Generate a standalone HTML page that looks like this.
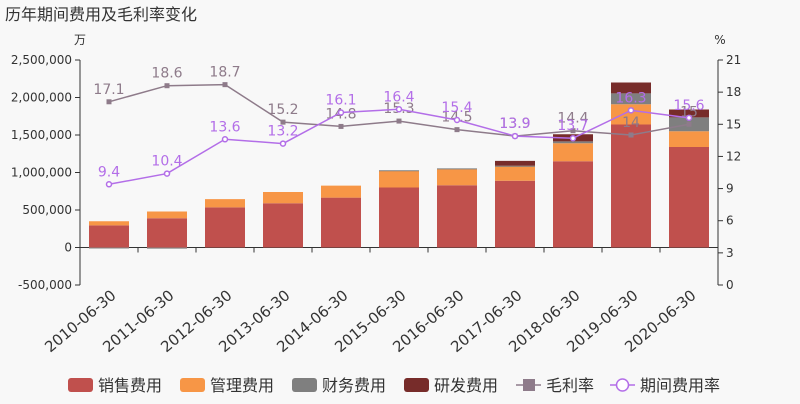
<!DOCTYPE html>
<html><head><meta charset="utf-8"><style>
body{margin:0;background:#f8f8f8;font-family:"DejaVu Sans","Noto Sans CJK SC",sans-serif}
svg text{font-family:"DejaVu Sans","Noto Sans CJK SC",sans-serif}
</style></head><body>
<svg id="c" width="800" height="400">
<rect width="800" height="400" fill="#f8f8f8"/>
<text x="5" y="20" font-size="16" fill="#333">历年期间费用及毛利率变化</text>
<text x="80" y="44" font-size="12" fill="#333" text-anchor="middle">万</text>
<text x="720" y="44" font-size="12" fill="#333" text-anchor="middle">%</text>
<g id="g"></g>
</svg>
<script>
const categories=["2010-06-30","2011-06-30","2012-06-30","2013-06-30","2014-06-30","2015-06-30","2016-06-30","2017-06-30","2018-06-30","2019-06-30","2020-06-30"];
const sales=[295000,390000,535000,590000,665000,800000,830000,890000,1150000,1640000,1340000];
const mgmt=[55000,90000,110000,150000,160000,225000,215000,190000,240000,270000,210000];
const fin=[-5000,-15000,0,0,0,5000,10000,10000,25000,145000,185000];
const rd=[0,0,0,0,0,0,0,65000,95000,145000,105000];
const gross=[17.1,18.6,18.7,15.2,14.8,15.3,14.5,13.9,14.4,14,15];
const period=[9.4,10.4,13.6,13.2,16.1,16.4,15.4,13.9,13.7,16.3,15.6];
const leftTicks=[-500000,0,500000,1000000,1500000,2000000,2500000];
const rightTicks=[0,3,6,9,12,15,18,21];
const L=80,R=718,T=60,B=285;
const g=document.getElementById('g');
const ns='http://www.w3.org/2000/svg';
function el(t,a,txt){const e=document.createElementNS(ns,t);for(const k in a)e.setAttribute(k,a[k]);if(txt!==undefined)e.textContent=txt;g.appendChild(e);return e;}
const yL=v=>B-(v+500000)/3000000*(B-T);
const yR=v=>B-v/21*(B-T);
const bw=(R-L)/categories.length;
const xC=i=>L+bw*(i+0.5);
let e=el('line',{x1:L,y1:T,x2:L,y2:B,stroke:'#333'});

e=el('line',{x1:R,y1:T,x2:R,y2:B,stroke:'#333'});

leftTicks.forEach(v=>{const y=yL(v);el('line',{x1:L-5,y1:y,x2:L,y2:y,stroke:'#333'});
e=el('text',{x:L-8,y:y+4,'font-size':12,fill:'#333','text-anchor':'end'},v.toLocaleString('en-US'));
});
rightTicks.forEach(v=>{const y=yR(v);el('line',{x1:R,y1:y,x2:R+5,y2:y,stroke:'#333'});
e=el('text',{x:R+8,y:y+4,'font-size':12,fill:'#333'},v);
});
e=el('line',{x1:L,y1:yL(0),x2:R,y2:yL(0),stroke:'#333'});

for(let i=0;i<=categories.length;i++){el('line',{x1:L+bw*i,y1:yL(0),x2:L+bw*i,y2:yL(0)+5,stroke:'#333'});}
categories.forEach((c,i)=>{const x=xC(i)+8,y=B+12;
e=el('text',{x:x,y:y,'font-size':15,fill:'#333','text-anchor':'end',transform:`rotate(-40 ${x} ${y})`},c);
});
const series=[[sales,'#c0504d','sales'],[mgmt,'#f79646','mgmt'],[fin,'#7f7f7f','fin'],[rd,'#772c2a','rd']];
categories.forEach((c,i)=>{let pos=0,neg=0;
series.forEach(([arr,col,nm])=>{const v=arr[i];if(!v)return;let y0,y1;
if(v>0){y0=yL(pos+v);y1=yL(pos);pos+=v;}else{y0=yL(neg);y1=yL(neg+v);neg+=v;}
const r=el('rect',{x:xC(i)-20,y:y0,width:40,height:Math.max(y1-y0,1),fill:col});
});});
function line(arr,col,nm,marker){
const pts=arr.map((v,i)=>xC(i)+','+yR(v)).join(' ');
const p=el('polyline',{points:pts,fill:'none',stroke:col,'stroke-width':1.5});

arr.forEach((v,i)=>{let m;
if(marker==='sq')m=el('rect',{x:xC(i)-2.5,y:yR(v)-2.5,width:5,height:5,fill:col});
else m=el('circle',{cx:xC(i),cy:yR(v),r:2.5,fill:'#fff',stroke:col,'stroke-width':1.5});

const t=el('text',{x:xC(i),y:yR(v)-8,'font-size':14,fill:col,'text-anchor':'middle'},v);
});}
line(gross,'#8e7b8a','gross-margin','sq');
line(period,'#b36ee8','period-rate','c');
const leg=[['销售费用','#c0504d','r'],['管理费用','#f79646','r'],['财务费用','#7f7f7f','r'],['研发费用','#772c2a','r'],['毛利率','#8e7b8a','sq'],['期间费用率','#b36ee8','c']];
const lx=[68,180,292,404,516,610];
leg.forEach(([t,col,k],i)=>{const x=lx[i],y=385;let s;
if(k==='r')s=el('rect',{x:x,y:y-7,width:25,height:14,rx:3,fill:col});
else{el('line',{x1:x,y1:y,x2:x+25,y2:y,stroke:col,'stroke-width':1.5});
s=k==='sq'?el('rect',{x:x+7,y:y-6,width:12,height:12,fill:col}):el('circle',{cx:x+12.5,cy:y,r:6,fill:'#fff',stroke:col,'stroke-width':1.5});}

const tx=el('text',{x:x+30,y:y+6,'font-size':16,fill:'#333'},t);
});
</script>
</body></html>
